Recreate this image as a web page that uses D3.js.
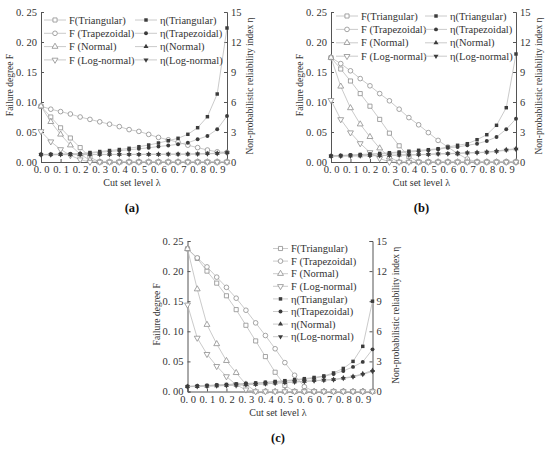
<!DOCTYPE html>
<html>
<head>
<meta charset="utf-8">
<script src="https://cdn.jsdelivr.net/npm/d3@7"></script>
<style>
  html, body { margin: 0; padding: 0; background: #fff; }
  svg { display: block; font-family: "Liberation Serif", "Times New Roman", serif; }
</style>
</head>
<body>
<svg id="chart" width="550" height="450"></svg>
<script>
// cut set levels (x values)
const lambda = [0, 0.05, 0.1, 0.15, 0.2, 0.25, 0.3, 0.35, 0.4, 0.45, 0.5, 0.55, 0.6, 0.65, 0.7, 0.75, 0.8, 0.85, 0.9, 0.95];
const xTicks = [0, 0.1, 0.2, 0.3, 0.4, 0.5, 0.6, 0.7, 0.8, 0.9];
const fTicks = [0, 0.05, 0.1, 0.15, 0.2, 0.25];
const etaTicks = [0, 3, 6, 9, 12, 15];

const fLabels = ["F(Triangular)", "F (Trapezoidal)", "F (Normal)", "F (Log-normal)"];
const etaLabels = ["η(Triangular)", "η(Trapezoidal)", "η(Normal)", "η(Log-normal)"];

// panel (a)
const fTriA   = [0.093, 0.075, 0.057, 0.040, 0.024, 0.008, 0, 0, 0, 0, 0, 0, 0, 0, 0, 0, 0, 0, 0, 0];
const fTrapA  = [0.093, 0.088, 0.084, 0.080, 0.075, 0.071, 0.067, 0.063, 0.059, 0.054, 0.051, 0.046, 0.041, 0.037, 0.033, 0.028, 0.024, 0.020, 0.017, 0.016];
const fNormA  = [0.093, 0.067, 0.046, 0.028, 0.013, 0.003, 0, 0, 0, 0, 0, 0, 0, 0, 0, 0, 0, 0, 0, 0];
const fLogA   = [0.051, 0.034, 0.021, 0.011, 0.004, 0, 0, 0, 0, 0, 0, 0, 0, 0, 0, 0, 0, 0, 0, 0];
const etaTriA  = [0.75, 0.76, 0.78, 0.80, 0.83, 0.95, 1.05, 1.15, 1.25, 1.37, 1.53, 1.70, 1.90, 2.13, 2.37, 2.77, 3.43, 4.53, 6.8, 13.4];
const etaTrapA = [0.75, 0.76, 0.78, 0.80, 0.83, 0.90, 0.98, 1.05, 1.13, 1.22, 1.32, 1.42, 1.55, 1.65, 1.77, 1.93, 2.27, 2.60, 3.27, 4.6];
const etaNormA = [0.74, 0.74, 0.75, 0.75, 0.75, 0.76, 0.76, 0.76, 0.77, 0.77, 0.77, 0.78, 0.78, 0.79, 0.79, 0.80, 0.82, 0.84, 0.88, 0.95];
const etaLogA  = [0.72, 0.72, 0.73, 0.73, 0.73, 0.74, 0.74, 0.74, 0.75, 0.75, 0.75, 0.76, 0.76, 0.77, 0.77, 0.78, 0.80, 0.82, 0.85, 0.92];

// panel (b)
const fTriB   = [0.174, 0.155, 0.135, 0.114, 0.093, 0.071, 0.048, 0.027, 0.009, 0, 0, 0, 0, 0, 0, 0, 0, 0, 0, 0];
const fTrapB  = [0.174, 0.164, 0.152, 0.139, 0.127, 0.114, 0.102, 0.088, 0.074, 0.062, 0.049, 0.036, 0.025, 0.014, 0.005, 0, 0, 0, 0, 0];
const fNormB  = [0.174, 0.126, 0.090, 0.063, 0.042, 0.023, 0.008, 0, 0, 0, 0, 0, 0, 0, 0, 0, 0, 0, 0, 0];
const fLogB   = [0.103, 0.071, 0.049, 0.031, 0.016, 0.006, 0, 0, 0, 0, 0, 0, 0, 0, 0, 0, 0, 0, 0, 0];
const etaTriB  = [0.60, 0.65, 0.70, 0.75, 0.80, 0.86, 0.93, 1.00, 1.08, 1.17, 1.23, 1.33, 1.50, 1.67, 1.83, 2.23, 2.73, 3.67, 5.43, 10.8];
const etaTrapB = [0.60, 0.64, 0.68, 0.72, 0.76, 0.81, 0.87, 0.93, 1.00, 1.07, 1.17, 1.27, 1.43, 1.50, 1.67, 1.83, 2.10, 2.50, 3.27, 4.33];
const etaNormB = [0.60, 0.61, 0.62, 0.63, 0.64, 0.66, 0.68, 0.70, 0.72, 0.74, 0.78, 0.83, 0.84, 0.88, 0.93, 0.95, 1.00, 1.10, 1.23, 1.33];
const etaLogB  = [0.58, 0.59, 0.60, 0.61, 0.62, 0.64, 0.66, 0.68, 0.70, 0.72, 0.75, 0.80, 0.82, 0.85, 0.90, 0.92, 0.97, 1.05, 1.18, 1.27];

// panel (c)
const fTriC   = [0.237, 0.221, 0.200, 0.180, 0.159, 0.136, 0.110, 0.084, 0.058, 0.032, 0.010, 0, 0, 0, 0, 0, 0, 0, 0, 0];
const fTrapC  = [0.237, 0.222, 0.207, 0.190, 0.173, 0.155, 0.135, 0.114, 0.093, 0.071, 0.048, 0.027, 0.008, 0, 0, 0, 0, 0, 0, 0];
const fNormC  = [0.237, 0.170, 0.111, 0.079, 0.051, 0.031, 0.012, 0, 0, 0, 0, 0, 0, 0, 0, 0, 0, 0, 0, 0];
const fLogC   = [0.144, 0.089, 0.062, 0.042, 0.025, 0.011, 0.003, 0, 0, 0, 0, 0, 0, 0, 0, 0, 0, 0, 0, 0];
const etaTriC  = [0.50, 0.55, 0.60, 0.65, 0.70, 0.75, 0.80, 0.85, 0.92, 1.00, 1.08, 1.18, 1.28, 1.40, 1.55, 1.85, 2.30, 3.00, 4.50, 9.0];
const etaTrapC = [0.50, 0.54, 0.58, 0.63, 0.68, 0.73, 0.78, 0.83, 0.89, 0.96, 1.04, 1.13, 1.22, 1.33, 1.50, 1.75, 2.05, 2.45, 2.95, 4.2];
const etaNormC = [0.50, 0.52, 0.55, 0.58, 0.61, 0.65, 0.69, 0.73, 0.78, 0.84, 0.90, 0.96, 1.02, 1.08, 1.15, 1.20, 1.35, 1.50, 1.77, 2.1];
const etaLogC  = [0.48, 0.50, 0.53, 0.56, 0.59, 0.63, 0.67, 0.71, 0.76, 0.82, 0.88, 0.94, 1.00, 1.06, 1.12, 1.17, 1.30, 1.45, 1.70, 2.0];

// marker shapes: square, circle, triangle up, triangle down
const symbolTypes = [d3.symbolSquare, d3.symbolCircle, d3.symbolTriangle, d3.symbolTriangle];
const openSizes = [17, 17, 15, 15];
const filledSizes = [12, 12, 11, 11];
const symbolRotate = [0, 0, 0, 180];

const lineColor = "#bdbdbd";
const openStroke = "#8e8e8e";
const filledColor = "#3c3c3c";
const axisColor = "#555";
const textColor = "#333";

const svg = d3.select("#chart");
svg.append("rect").attr("width", 550).attr("height", 450).attr("fill", "#fff");

const tickFmt = (fmt) => (v) => d3.format(fmt)(v).replace(".", ". ");

function drawPanel(p) {
  const x = d3.scaleLinear().domain([0, 0.95]).range([p.left, p.right]);
  const yF = d3.scaleLinear().domain([0, 0.25]).range([p.bottom, p.top]);
  const yE = d3.scaleLinear().domain([0, 15]).range([p.bottom, p.top]);

  const g = svg.append("g");

  // axes, ticks point inward
  const xAxis = d3.axisBottom(x).tickValues(xTicks).tickSize(-3).tickPadding(4).tickFormat(tickFmt(".1f"));
  const yAxisL = d3.axisLeft(yF).tickValues(fTicks).tickSize(-3).tickPadding(4).tickFormat(tickFmt(".2f"));
  const yAxisR = d3.axisRight(yE).tickValues(etaTicks).tickSize(-3).tickPadding(4);

  [
    g.append("g").attr("transform", `translate(0,${p.bottom})`).call(xAxis),
    g.append("g").attr("transform", `translate(${p.left},0)`).call(yAxisL),
    g.append("g").attr("transform", `translate(${p.right},0)`).call(yAxisR)
  ].forEach(ax => {
    ax.select(".domain").attr("stroke", axisColor).attr("stroke-width", 1);
    ax.selectAll(".tick line").attr("stroke", axisColor);
    ax.selectAll(".tick text").attr("fill", textColor).style("font-size", "10.5px")
      .style("font-family", "'Liberation Serif', serif");
  });

  // axis titles
  g.append("text")
    .attr("transform", `translate(${p.left - 28},${(p.top + p.bottom) / 2 - 2}) rotate(-90)`)
    .attr("text-anchor", "middle").attr("fill", textColor).style("font-size", "9.5px")
    .text("Failure degree F");
  g.append("text")
    .attr("transform", `translate(${p.right + 24},${(p.top + p.bottom) / 2 - 1}) rotate(-90)`)
    .attr("text-anchor", "middle").attr("dominant-baseline", "middle").attr("fill", textColor).style("font-size", "9.5px")
    .text("Non-probabilistic reliability index η");
  g.append("text")
    .attr("x", (p.left + p.right) / 2 - 2).attr("y", p.bottom + 24)
    .attr("text-anchor", "middle").attr("fill", textColor).style("font-size", "10px")
    .text("Cut set level λ");
  g.append("text")
    .attr("x", (p.left + p.right) / 2 - 2).attr("y", p.bottom + 50)
    .attr("text-anchor", "middle").attr("fill", "#111").style("font-size", "12.5px").style("font-weight", "bold")
    .text(p.tag);

  const line = (yScale) => d3.line().x((d, i) => x(lambda[i])).y(d => yScale(d));
  const sym = (k, filled) => d3.symbol().type(symbolTypes[k]).size(filled ? filledSizes[k] : openSizes[k]);

  // series: F (open markers) then eta (filled markers)
  const draw = (values, yScale, k, filled) => {
    const s = g.append("g");
    s.append("path").datum(values).attr("d", line(yScale))
      .attr("fill", "none").attr("stroke", lineColor).attr("stroke-width", 0.8);
    s.selectAll("path.pt").data(values).join("path").attr("class", "pt")
      .attr("d", sym(k, filled))
      .attr("transform", (d, i) => `translate(${x(lambda[i])},${yScale(d)}) rotate(${symbolRotate[k]})`)
      .attr("fill", filled ? filledColor : "#fff")
      .attr("stroke", filled ? "none" : openStroke)
      .attr("stroke-width", 0.8);
  };
  p.f.forEach((vals, k) => draw(vals, yF, k, false));
  p.eta.forEach((vals, k) => draw(vals, yE, k, true));

  // legend
  const items = [];
  fLabels.forEach((t, k) => items.push({ t, k, filled: false }));
  etaLabels.forEach((t, k) => items.push({ t, k, filled: true }));
  items.forEach((it, i) => {
    const pos = p.legendPos(i);
    const lg = g.append("g").attr("transform", `translate(${pos[0]},${pos[1]})`);
    lg.append("line").attr("x1", 0).attr("x2", p.legendLine).attr("y1", 0).attr("y2", 0)
      .attr("stroke", lineColor).attr("stroke-width", 0.8);
    lg.append("path").attr("d", sym(it.k, it.filled))
      .attr("transform", `translate(${p.legendLine / 2},0) rotate(${symbolRotate[it.k]})`)
      .attr("fill", it.filled ? filledColor : "#fff")
      .attr("stroke", it.filled ? "none" : openStroke).attr("stroke-width", 0.8);
    lg.append("text").attr("x", p.legendLine + 3).attr("y", 0).attr("dy", "0.35em")
      .attr("fill", textColor).style("font-size", "10.5px").text(it.t);
  });
}

drawPanel({
  tag: "(a)", left: 41, right: 227, top: 12, bottom: 162,
  f: [fTriA, fTrapA, fNormA, fLogA], eta: [etaTriA, etaTrapA, etaNormA, etaLogA],
  legendLine: 22,
  legendPos: (i) => [i < 4 ? 44 : 135, 20 + (i % 4) * 13.3]
});
drawPanel({
  tag: "(b)", left: 331, right: 516, top: 12, bottom: 162,
  f: [fTriB, fTrapB, fNormB, fLogB], eta: [etaTriB, etaTrapB, etaNormB, etaLogB],
  legendLine: 22,
  legendPos: (i) => [i < 4 ? 336 : 425, 16 + (i % 4) * 13.4]
});
drawPanel({
  tag: "(c)", left: 187.5, right: 372.5, top: 241, bottom: 391.5,
  f: [fTriC, fTrapC, fNormC, fLogC], eta: [etaTriC, etaTrapC, etaNormC, etaLogC],
  legendLine: 15,
  legendPos: (i) => [273, 248.5 + i * 12.6]
});
</script>
</body>
</html>
